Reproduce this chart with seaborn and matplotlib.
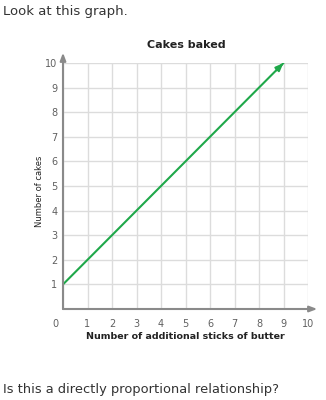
import matplotlib
matplotlib.use("Agg")
import matplotlib.pyplot as plt
import matplotlib.transforms as mtransforms
import seaborn as sns
import pandas as pd

# Data
butter = [0, 9]
cakes = [1, 10]
x_ticks = list(range(0, 11))
y_ticks = list(range(1, 11))
title = "Cakes baked"
x_label = "Number of additional sticks of butter"
y_label = "Number of cakes"
top_text = "Look at this graph."
bottom_text = "Is this a directly proportional relationship?"

green = "#1fa84a"
axis_gray = "#8a8a8a"
grid_gray = "#dcdcdc"
text_gray = "#606060"

sns.set_style("white")
plt.rcParams["font.family"] = ["DejaVu Sans"]

fig = plt.figure(figsize=(3.26, 4.0), dpi=100)
W, H = 326, 400
x0, x1 = 63, 308
y0, y1 = 309, 63
ax = fig.add_axes([x0 / W, (H - y0) / H, (x1 - x0) / W, (y0 - y1) / H])

df = pd.DataFrame({"butter": butter, "cakes": cakes})
sns.lineplot(data=df, x="butter", y="cakes", color=green, linewidth=1.5, ax=ax)
ax.annotate("", xy=(butter[-1], cakes[-1]), xytext=(butter[-1] - 0.3, cakes[-1] - 0.3),
            arrowprops=dict(arrowstyle="-|>,head_length=0.45,head_width=0.18", color=green, lw=1.5,
                            shrinkA=0, shrinkB=0),
            annotation_clip=False)

ax.set_xlim(0, 10)
ax.set_ylim(0, 10)
ax.set_xticks(x_ticks)
ax.set_yticks(y_ticks)
ax.grid(True, color=grid_gray, linewidth=1.0)
for s in ax.spines.values():
    s.set_visible(False)

# axis arrows
ax.annotate("", xy=(10.38, 0), xytext=(0, 0),
            arrowprops=dict(arrowstyle="-|>,head_length=0.45,head_width=0.17", color=axis_gray, lw=1.5,
                            shrinkA=0, shrinkB=0), annotation_clip=False)
ax.annotate("", xy=(0, 10.42), xytext=(0, 0),
            arrowprops=dict(arrowstyle="-|>,head_length=0.45,head_width=0.17", color=axis_gray, lw=1.5,
                            shrinkA=0, shrinkB=0), annotation_clip=False)

ax.tick_params(axis="both", length=0, labelsize=7, labelcolor=text_gray)
ax.tick_params(axis="x", pad=7)
ax.tick_params(axis="y", pad=4)
# shift the "0" label left
lbl0 = ax.get_xticklabels()[0]
lbl0.set_transform(lbl0.get_transform() + mtransforms.ScaledTranslation(-8 / 100, 0, fig.dpi_scale_trans))

ax.set_xlabel(x_label, fontsize=6.8, fontweight="bold", color="#222222", labelpad=2.5)
ax.set_ylabel("")
fig.text(39 / W, 1 - 191 / H, y_label, rotation=90, fontsize=6.0, color="#222222",
         ha="center", va="center")
fig.text(186 / W, 1 - 45 / H, title, fontsize=8, fontweight="bold", color="#222222",
         ha="center", va="center")

fig.text(3 / W, 1 - 11 / H, top_text, fontsize=9.5, color="#333333", ha="left", va="center")
fig.text(3 / W, 1 - 389 / H, bottom_text, fontsize=9.4, color="#333333", ha="left", va="center")

fig.savefig("out.png", dpi=100)
